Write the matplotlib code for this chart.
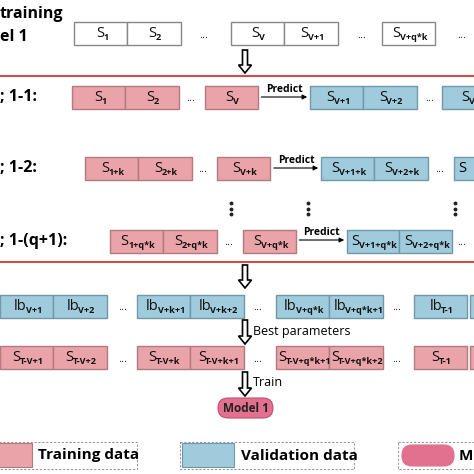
import matplotlib
matplotlib.use("Agg")
import matplotlib.pyplot as plt
from matplotlib.patches import Rectangle, FancyBboxPatch, FancyArrow
from matplotlib.textpath import TextPath
from matplotlib.font_manager import FontProperties

plt.rcParams['font.family'] = ['Open Sans', 'DejaVu Sans']

PINK, PINK_E = '#eaa3a8', '#b07a7e'
BLUE, BLUE_E = '#9fcbdc', '#6f98a8'
WHITE, WHITE_E = '#ffffff', '#888888'
MODEL = '#e2708f'

row0_labels = ['1', '2', 'V', 'V+1', 'V+q*k']
row1_train = ['1', '2', 'V']
row1_val = ['V+1', 'V+2', 'V-']
row2_train = ['1+k', '2+k', 'V+k']
row2_val = ['V+1+k', 'V+2+k', '']
row3_train = ['1+q*k', '2+q*k', 'V+q*k']
row3_val = ['V+1+q*k', 'V+2+q*k']
lb_labels = ['V+1', 'V+2', 'V+k+1', 'V+k+2', 'V+q*k', 'V+q*k+1', 'T-1', '']
st_labels = ['T-V+1', 'T-V+2', 'T-V+k', 'T-V+k+1', 'T-V+q*k+1', 'T-V+q*k+2', 'T-1', '']

fig = plt.figure(figsize=(4.74, 4.74), dpi=100)
ax = fig.add_axes([0, 0, 1, 1])
ax.set_xlim(0, 474); ax.set_ylim(474, 0); ax.axis('off')

W, H = 53.5, 23
FP = FontProperties(family='Open Sans')

def tw(s, fs):
    return TextPath((0, 0), s, size=fs, prop=FP).get_extents().width * 100 / 72 if s else 0

def box(x, y, base, sub, fc, ec, w=W, fs=10.5, sfs=6.5):
    ax.add_patch(Rectangle((x, y), w, H, fc=fc, ec=ec, lw=1))
    if not base:
        return
    wb, ws = tw(base, fs) + 1, tw(sub, sfs)
    x0 = x + w / 2 - (wb + ws) / 2
    ax.text(x0, y + H / 2, base, ha='left', va='center', fontsize=fs, color='#111')
    if sub:
        ax.text(x0 + wb, y + H / 2 + 4, sub, ha='left', va='center', fontsize=sfs,
                color='#111', fontweight='bold' if sfs < 7 else 'normal')

def dots(x, y):
    ax.text(x, y, '...', ha='center', va='center', fontsize=8, color='#222')

def down(x, y0, y1):
    ax.add_patch(FancyArrow(x, y0, 0, y1 - y0, width=5, head_width=13, head_length=8,
                            length_includes_head=True, fc='white', ec='black', lw=1.2))

def predict(x0, x1, y):
    ax.annotate('', xy=(x1, y), xytext=(x0, y),
                arrowprops=dict(arrowstyle='-|>', color='black', lw=0.8, mutation_scale=7))
    ax.text((x0 + x1) / 2, y - 2, 'Predict', ha='center', va='bottom', fontsize=7.5, fontweight='bold')

ax.text(0, 14, 'training', ha='left', va='center', fontsize=11.5, fontweight='bold')
ax.text(0, 37, 'el 1', ha='left', va='center', fontsize=11.5, fontweight='bold')
for x, l in zip([74, 127.5, 231, 284.5, 382], row0_labels):
    box(x, 22, 'S', l, WHITE, WHITE_E)
for x in [204, 362, 462]:
    dots(x, 35)
down(245, 50, 73)
ax.plot([0, 474], [76, 76], color='#d62020', lw=1.2)

ax.text(0, 97, '; 1-1:', ha='left', va='center', fontsize=11.5, fontweight='bold')
for x, l in zip([72, 125.5, 205], row1_train):
    box(x, 86, 'S', l, PINK, PINK_E)
for x, l in zip([310, 363.5, 442], row1_val):
    box(x, 86, 'S', l, BLUE, BLUE_E)
dots(191, 98); dots(430, 98)
predict(258.5, 310, 97)

ax.text(0, 168, '; 1-2:', ha='left', va='center', fontsize=11.5, fontweight='bold')
for x, l in zip([85, 138.5, 217], row2_train):
    box(x, 157, 'S', l, PINK, PINK_E)
for x, l in zip([321, 374.5, 454], row2_val):
    box(x, 157, 'S', l, BLUE, BLUE_E)
ax.text(458, 168.5, 'S', ha='left', va='center', fontsize=10.5)
dots(203, 169); dots(440, 169)
predict(271, 321, 168)

for x in [231, 308, 455]:
    ax.plot([x] * 3, [203, 208.5, 214], 'o', color='#222', ms=1.8)

ax.text(0, 241, '; 1-(q+1):', ha='left', va='center', fontsize=11.5, fontweight='bold')
for x, l in zip([110, 163.5, 243], row3_train):
    box(x, 230, 'S', l, PINK, PINK_E)
for x, l in zip([347, 399.5], row3_val):
    box(x, 230, 'S', l, BLUE, BLUE_E, w=52.5)
dots(229, 242); dots(462, 242)
predict(296.5, 347, 240)
ax.plot([0, 474], [262, 262], color='#d62020', lw=1.2)
down(245, 265, 288)

xs45 = [0, 53.5, 137, 190.5, 276, 329.5, 414, 470]
for x, l in zip(xs45, lb_labels):
    box(x, 295, 'lb' if l else '', l, BLUE, BLUE_E)
for x in [123, 258, 397]:
    dots(x, 308)
down(245, 320, 344)
ax.text(253, 331, 'Best parameters', ha='left', va='center', fontsize=9)

for x, l in zip(xs45, st_labels):
    box(x, 346, 'S' if l else '', l, PINK, PINK_E)
for x in [123, 258, 397]:
    dots(x, 359)
down(245, 372, 396)
ax.text(253, 383, 'Train', ha='left', va='center', fontsize=9)
ax.add_patch(FancyBboxPatch((218, 398), 55, 20, boxstyle='round,pad=0,rounding_size=10',
                            fc=MODEL, ec='#c05070', lw=0.8))
ax.text(245.5, 408, 'Model 1', ha='center', va='center', fontsize=8.5, fontweight='bold', color='#222')

for x0, x1 in [(-2, 137), (180, 354), (398, 476)]:
    ax.add_patch(Rectangle((x0, 442), x1 - x0, 27, fc='none', ec='#999', lw=0.8, ls=(0, (2, 1.5))))
ax.add_patch(Rectangle((-2, 443), 34, 24, fc=PINK, ec=PINK_E, lw=0.8))
ax.text(38, 455.5, 'Training data', ha='left', va='center', fontsize=11, fontweight='bold')
ax.add_patch(Rectangle((182, 443), 52, 24, fc=BLUE, ec=BLUE_E, lw=0.8))
ax.text(241, 455.5, 'Validation data', ha='left', va='center', fontsize=11, fontweight='bold')
ax.add_patch(FancyBboxPatch((402, 445), 52, 21, boxstyle='round,pad=0,rounding_size=10',
                            fc=MODEL, ec=MODEL, lw=0.8))
ax.text(459, 455.5, 'M', ha='left', va='center', fontsize=11, fontweight='bold')

fig.savefig('out.png', dpi=100)
